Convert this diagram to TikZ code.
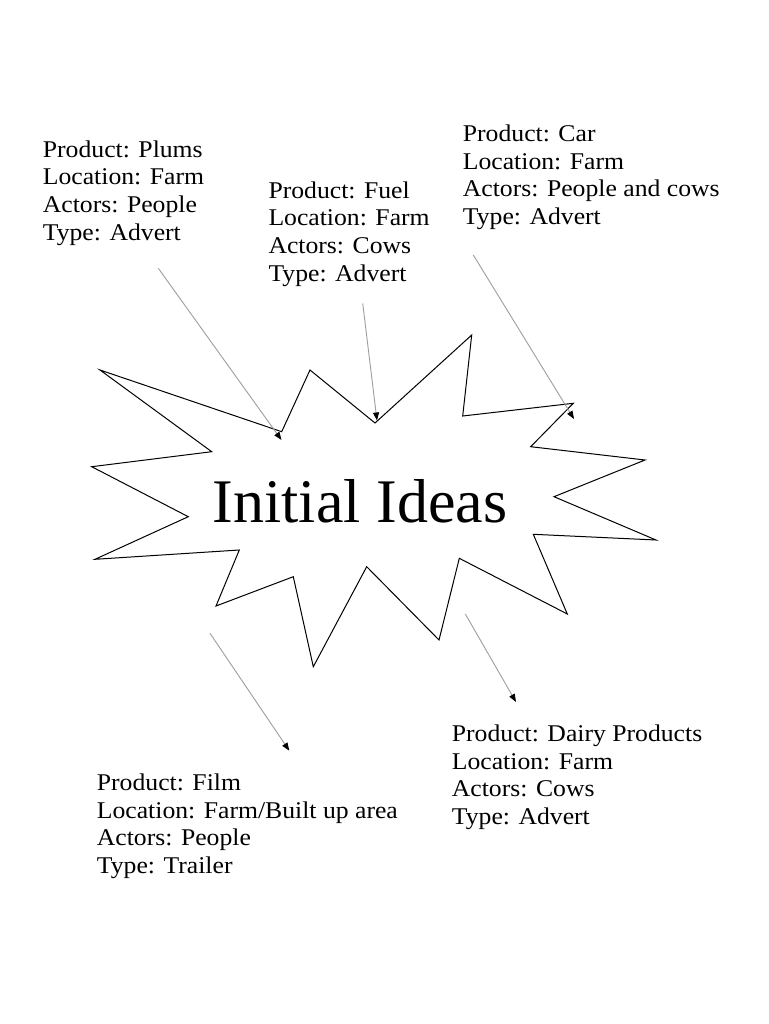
\documentclass[tikz,border=0pt]{standalone}
\usepackage{fontspec}
\setmainfont{Liberation Serif}
\newfontfamily\blockfont[FakeStretch=1.07]{Liberation Serif}
\usetikzlibrary{arrows.meta}
\begin{document}
\begin{tikzpicture}[x=1pt,y=-1pt,
  info/.style={anchor=base west,inner sep=0pt,font=\blockfont\fontsize{24}{27.6}\selectfont},
  link/.style={draw=black!38,line width=0.9pt,-{Triangle[length=8pt,width=6pt,color=black,fill=black]}},
  burst/.style={draw=black,line width=1pt,line join=miter,miter limit=20}]
\useasboundingbox[fill=white] (0,0) rectangle (768,1024);

% starburst
\draw[burst] (100,370) -- (281.7,431.7) -- (310,370) -- (375,423) -- (471.7,335)
  -- (462.7,416) -- (573.3,403.3) -- (530.7,446.7) -- (645,460) -- (554,496.7)
  -- (656,540) -- (533.3,534.3) -- (567.3,614) -- (459.3,558.3) -- (439,640)
  -- (366.7,566.7) -- (313.3,666.7) -- (293.3,576.7) -- (216,606) -- (239.3,550)
  -- (95,559.3) -- (188.3,516.7) -- (91.7,466.7) -- (211.7,451.7) -- cycle;

\node (title) [anchor=base,inner sep=0pt,font=\fontsize{62}{74}\selectfont] at (360,522.7) {Initial Ideas};

% text blocks
\node (plums) [info] at (42.7,157.3) {\begin{tabular}[t]{@{}l@{}}Product: Plums\\Location: Farm\\Actors: People\\Type: Advert\end{tabular}};
\node (fuel) [info] at (268.3,198.3) {\begin{tabular}[t]{@{}l@{}}Product: Fuel\\Location: Farm\\Actors: Cows\\Type: Advert\end{tabular}};
\node (car) [info] at (462.7,141.7) {\begin{tabular}[t]{@{}l@{}}Product: Car\\Location: Farm\\Actors: People and cows\\Type: Advert\end{tabular}};
\node (film) [info] at (96.7,790.7) {\begin{tabular}[t]{@{}l@{}}Product: Film\\Location: Farm/Built up area\\Actors: People\\Type: Trailer\end{tabular}};
\node (dairy) [info] at (451.7,741.7) {\begin{tabular}[t]{@{}l@{}}Product: Dairy Products\\Location: Farm\\Actors: Cows\\Type: Advert\end{tabular}};

% connector end points
\coordinate (s1) at (158.3,268.3); \coordinate (e1) at (281.5,440);
\coordinate (s2) at (362.7,303.3); \coordinate (e2) at (377,420.5);
\coordinate (s3) at (473.3,255);   \coordinate (e3) at (574,419);
\coordinate (s4) at (210,633.3);   \coordinate (e4) at (289.3,750.7);
\coordinate (s5) at (465.3,614);   \coordinate (e5) at (516,702);

\draw[link] (s1) -- (e1);
\draw[link] (s2) -- (e2);
\draw[link] (s3) -- (e3);
\draw[link] (s4) -- (e4);
\draw[link] (s5) -- (e5);
\end{tikzpicture}
\end{document}
